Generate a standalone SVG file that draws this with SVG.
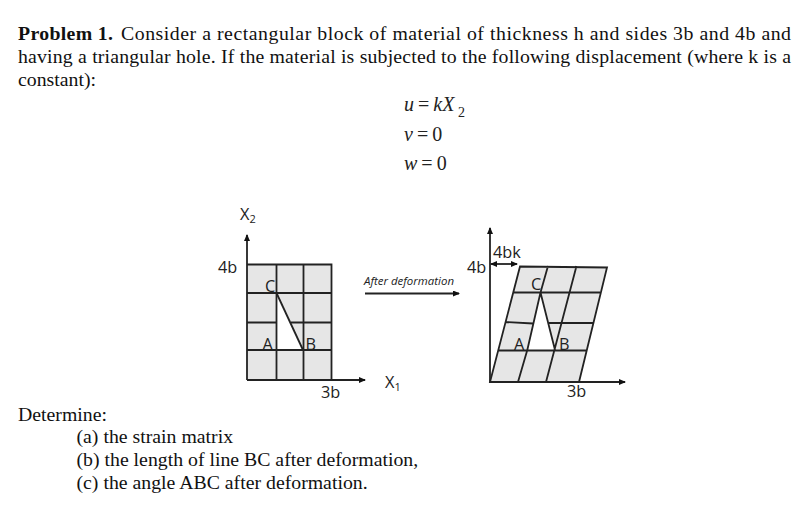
<svg xmlns="http://www.w3.org/2000/svg" width="801" height="514" viewBox="0 0 801 514">
<style>
.t{font-family:"Liberation Serif",serif;font-size:19.8px;fill:#111}
.m{font-family:"Liberation Serif",serif;font-size:20px;fill:#222}
.i{font-style:italic}
.sub{font-size:14px}
.s{font-family:"Open Sans","DejaVu Sans",sans-serif;font-size:16.3px;fill:#222}
.d{font-size:11px;font-style:italic}
.n{font-size:11px}
.l{fill:none;stroke:#222;stroke-width:1.8}
.g{fill:#e6e6e6;stroke:none}
.w{fill:#fff;stroke:none}
</style>
<defs>
<marker id="a" markerWidth="8" markerHeight="8" refX="6" refY="3" orient="auto-start-reverse" markerUnits="userSpaceOnUse"><path d="M0 0L7 3L0 6Z" fill="#111"/></marker>
</defs>
<rect width="801" height="514" fill="#fff"/>
<g id="problem-text">
<text class="t" x="18" y="40" font-weight="bold" textLength="95" lengthAdjust="spacing">Problem 1.</text>
<text class="t" x="121" y="40" textLength="670" lengthAdjust="spacing">Consider a rectangular block of material of thickness h and sides 3b and 4b and</text>
<text class="t" x="18" y="63" textLength="773" lengthAdjust="spacing">having a triangular hole. If the material is subjected to the following displacement (where k is a</text>
<text class="t" x="18" y="86">constant):</text>
</g>
<g id="equations">
<text class="m i" x="404" y="111">u<tspan font-style="normal" dx="4">=</tspan><tspan dx="4">kX</tspan></text>
<text class="m sub" x="458" y="117">2</text>
<text class="m i" x="404" y="141">v<tspan font-style="normal" dx="4">=</tspan><tspan font-style="normal" dx="4">0</tspan></text>
<text class="m i" x="404" y="170">w<tspan font-style="normal" dx="4">=</tspan><tspan font-style="normal" dx="4">0</tspan></text>
</g>
<g id="block-before">
<rect class="g" x="247" y="264.500" width="84.500" height="115.500"/>
<path class="w" d="M276.500 293L303 350H276.500Z"/>
<path class="l" d="M247 264.500H331.500V380M247 293H331.500M247 322.500H276.500M291 322.500H331.500M247 350H331.500M276.500 264.500V380M303.500 264.500V380"/>
<path class="l" d="M276.500 293L303 350"/>
<text class="s" x="265" y="292">C</text>
<text class="s" x="262.500" y="350">A</text>
<text class="s" x="305.500" y="350">B</text>
</g>
<g id="block-after">
<path class="g" d="M490 382L520 266.500L607 267.500L579 382Z"/>
<path class="w" d="M540.500 292.500L555 350H527.300Z"/>
<path class="l" d="M490 382H579L607 267.500L520 266.500ZM513 292.500H600M505 322L533 323.500M549 323H593M498 350.500H586M518 382L527.300 350M540.500 292.500L548 266M546 382L576.500 266M540.500 292.500L527.300 350M540.500 292.500L555 350"/>
<text class="s" x="531" y="290">C</text>
<text class="s" x="514" y="350">A</text>
<text class="s" x="559" y="350">B</text>
</g>
<g id="connectors">
<path class="l" d="M247 380V235" marker-end="url(#a)"/>
<path class="l" d="M247 380H365" marker-end="url(#a)"/>
<path class="l" d="M490 382V228" marker-end="url(#a)"/>
<path class="l" d="M490 382H625" marker-end="url(#a)"/>
<path class="l" d="M491 264H517" marker-start="url(#a)" marker-end="url(#a)"/>
<path class="l" d="M365 293.500H459" marker-end="url(#a)"/>
</g>
<g id="labels">
<text class="s" x="240" y="220">X<tspan class="n" dy="3">2</tspan></text>
<text class="s" x="218" y="273">4b</text>
<text class="s" x="321" y="398">3b</text>
<text class="s" x="385" y="388">X<tspan class="n" dy="3">1</tspan></text>
<text class="s d" x="364" y="285" textLength="90" lengthAdjust="spacingAndGlyphs">After deformation</text>
<text class="s" x="467" y="273">4b</text>
<text class="s" x="493" y="258">4bk</text>
<text class="s" x="567" y="397">3b</text>
</g>
<g id="determine-text">
<text class="t" x="18" y="421">Determine:</text>
<text class="t" x="76.500" y="443">(a) the strain matrix</text>
<text class="t" x="76.500" y="466">(b) the length of line BC after deformation,</text>
<text class="t" x="76.500" y="489">(c) the angle ABC after deformation.</text>
</g>
</svg>
